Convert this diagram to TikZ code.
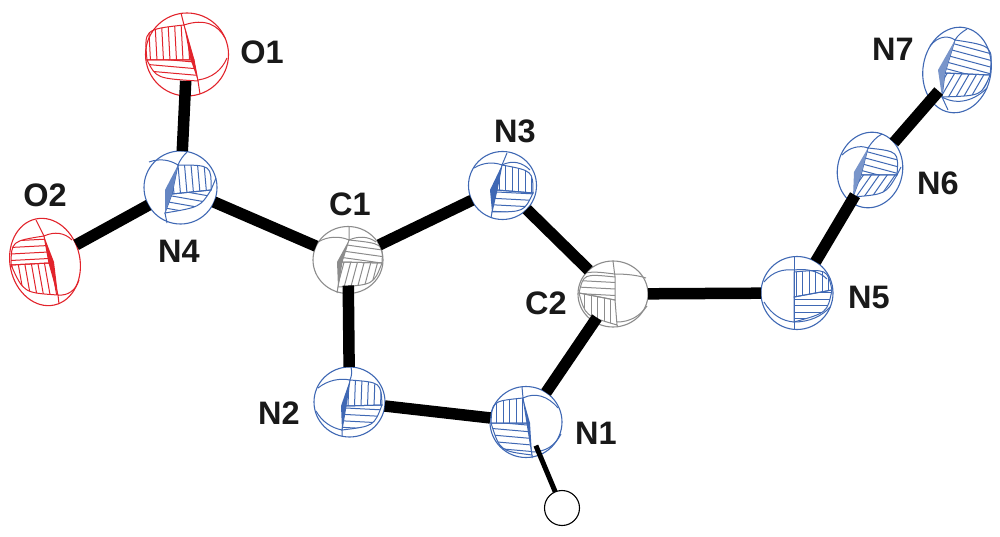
\documentclass[tikz,border=0pt]{standalone}
\usepackage{fontspec}
\setmainfont{Liberation Sans}
\usetikzlibrary{shapes.geometric,calc}
\definecolor{ored}{HTML}{E2232B}
\definecolor{nblue}{HTML}{3F68B4}
\definecolor{cgray}{HTML}{8C8C8C}
\tikzset{
  atomnode/.style={ellipse,inner sep=0pt,outer sep=0pt,fill=white,line width=1.1pt},
  bond/.style={line width=11.5pt,black},
  thinbond/.style={line width=5pt,black},
  lab/.style={font=\bfseries\fontsize{32.5}{33}\selectfont,text=black!90,inner sep=0pt},
  oline/.style={line width=1pt},
}
% name, centre, rx, ry, rotation, colour
\newcommand{\atom}[6]{\node[atomnode,draw=#6,minimum width={2*#3pt},minimum height={2*#4pt},rotate=#5] (#1) at (#2) {};}
\newcommand{\hatchreg}[4]{%
  \begin{scope}
    \clip (#1) -- (#2) .. controls ($(#1)!1.75!($(#2)!.5!(#3)$)$) .. (#3) -- cycle;
    \foreach \k in {-13,...,13}{\draw[#4,oline,shift={(#1)},rotate=\hatchang] (-95,\k*6.5+2) -- (95,\k*6.5+2);}
  \end{scope}
  \draw[#4,oline] (#1) -- (#2) .. controls ($(#1)!1.75!($(#2)!.5!(#3)$)$) .. (#3) -- cycle;}
% A, B, C, P, angle 1, angle 2, colour
\newcommand{\octant}[7]{%
  \coordinate (qA) at (#1); \coordinate (qB) at (#2); \coordinate (qC) at (#3); \coordinate (qP) at (#4);
  \def\hatchang{#5}\hatchreg{qP}{qA}{qB}{#7}%
  \def\hatchang{#6}\hatchreg{qP}{qB}{qC}{#7}}
\newcommand{\sliver}[2]{\fill[#1] #2 -- cycle;}
\begin{document}
\begin{tikzpicture}[x=1pt,y=-1pt]
\useasboundingbox (0,0) rectangle (1000,537);
\fill[white] (0,0) rectangle (1000,537);

% O1
\atom{O1}{187,54.5}{41.5}{41.5}{0}{ored}
\octant{184,25}{147,60}{198,81}{194,60}{93}{-5}{ored}
\sliver{ored}{(184,25) -- (194,60) -- (198,81) -- (190,58)}
\draw[ored,oline] (181,13) -- (184,25) .. controls (205,18) and (218,25) .. (225,38);
\draw[ored,oline] (198,81) -- (200,94) (198,80) .. controls (212,78) and (222,70) .. (227,58);

% O2
\atom{O2}{45,262}{35}{44}{12}{ored}
\octant{44,236}{11,265}{58,295}{49,263}{3}{100}{ored}
\sliver{ored}{(44,236) -- (49,263) -- (58,295) -- (54,262)}
\draw[ored,oline] (36,220) -- (44,236) .. controls (55,231) and (65,233) .. (72,240);
\draw[ored,oline] (58,295) -- (59,304) (58,295) .. controls (68,296) and (76,290) .. (79,280);

% N4
\atom{N4}{180.5,187.5}{36.5}{36.5}{0}{nblue}
\octant{178,165}{211,190}{165,213}{172,194}{95}{-10}{nblue}
\sliver{nblue!80}{(178,165) -- (172,194) -- (165,213) -- (165,190)}
\draw[nblue,oline] (149,162) .. controls (160,158) and (170,160) .. (178,165) .. controls (180,160) and (183,156) .. (187,152);
\draw[nblue,oline] (165,213) -- (167,223) (211,190) -- (216,178);

% C1
\atom{C1}{348,260}{35}{33.5}{0}{cgray}
\octant{349,240}{382,263}{338,287}{342,262}{-8}{75}{cgray}
\sliver{cgray}{(349,240) -- (342,262) -- (338,287) -- (337,262)}
\draw[cgray,oline] (349,227) -- (349,240) (318,242) .. controls (328,236) and (340,236) .. (349,240) .. controls (358,236) and (368,236) .. (376,242);
\draw[cgray,oline] (338,287) -- (337,293);

% N3
\atom{N3}{502.5,185.5}{34}{34}{0}{nblue}
\octant{502,165}{533,193}{492,212}{497,190}{90}{-3}{nblue}
\sliver{nblue}{(502,165) -- (497,190) -- (492,212) -- (490,190)}
\draw[nblue,oline] (474,168) .. controls (484,162) and (494,162) .. (502,165) -- (507,153);
\draw[nblue,oline] (492,212) -- (491,218) (502,165) .. controls (512,160) and (522,162) .. (530,170);

% C2
\atom{C2}{613,294}{35}{33}{0}{cgray}
\octant{615,277}{579,293}{617,325}{615,300}{-3}{90}{cgray}
\draw[cgray,oline] (613,261) -- (615,277) (617,325) -- (618,327);
\draw[cgray,oline] (585,273) .. controls (595,271) and (605,273) .. (615,274) .. controls (625,274) and (637,275) .. (646,278);
\draw[cgray,oline] (617,322) .. controls (630,322) and (640,316) .. (647,306);

% N2
\atom{N2}{349.5,402}{35.5}{35}{0}{nblue}
\octant{350,380}{382,405}{342,430}{346,406}{88}{-3}{nblue}
\sliver{nblue}{(350,380) -- (346,406) -- (342,430) -- (341,406)}
\draw[nblue,oline] (318,388) .. controls (328,380) and (340,378) .. (350,380) .. controls (352,375) and (352,372) .. (351,367);
\draw[nblue,oline] (342,430) -- (342,436) (316,411) .. controls (322,422) and (332,428) .. (342,430);

% N1
\atom{N1}{526,422}{36}{35.5}{0}{nblue}
\octant{523,398}{491,423}{532,455}{527,423}{90}{-5}{nblue}
\sliver{nblue}{(523,398) -- (527,423) -- (532,455) -- (530,423)}
\draw[nblue,oline] (522,387) -- (523,398) .. controls (535,392) and (548,396) .. (558,408);
\draw[nblue,oline] (532,455) -- (532,458) (532,452) .. controls (545,452) and (555,446) .. (561,434);

% N5
\atom{N5}{797,293}{36}{36.5}{0}{nblue}
\octant{794,272}{832,290}{794,322}{794,297}{90}{0}{nblue}
\draw[nblue,oline] (794,256) -- (794,330);
\draw[nblue,oline] (764,282) .. controls (773,271) and (784,269) .. (794,270) .. controls (808,268) and (820,272) .. (827,279);
\draw[nblue,oline] (764,302) .. controls (772,315) and (782,321) .. (794,322) .. controls (810,322) and (822,316) .. (830,307);

% N6
\atom{N6}{870,170}{32.5}{38}{-12}{nblue}
\octant{868,148}{897,175}{853,197}{861,175}{-15}{55}{nblue}
\sliver{nblue!70}{(868,148) -- (861,175) -- (853,197) -- (854,172)}
\draw[nblue,oline] (842,155) .. controls (850,147) and (860,145) .. (868,148) .. controls (872,142) and (876,137) .. (882,134);
\draw[nblue,oline] (853,197) -- (856,205) (897,175) -- (901,167);

% N7
\atom{N7}{957,70}{34}{43}{-10}{nblue}
\octant{955,40}{990,75}{942,97}{945,73}{-15}{60}{nblue}
\sliver{nblue!70}{(955,40) -- (945,73) -- (942,97) -- (938,70)}
\draw[nblue,oline] (930,46) .. controls (938,36) and (948,35) .. (955,40) .. controls (958,35) and (962,32) .. (967,29);
\draw[nblue,oline] (942,97) -- (948,110) (942,97) .. controls (958,106) and (975,100) .. (987,88);

% H
\node[atomnode,draw=black,minimum width=35pt,minimum height=35pt] (H) at (562,508) {};

% bonds
\draw[bond,shorten <=-15pt] (O1) -- (N4);
\draw[bond] (O2) -- (N4);
\draw[bond] (N4) -- (C1);
\draw[bond] (C1) -- (N3);
\draw[bond] (N3) -- (C2);
\draw[bond,shorten <=-8pt] (C1) -- (N2);
\draw[bond] (N2) -- (N1);
\draw[bond,shorten <=-5pt] (C2) -- (N1);
\draw[bond] (C2) -- (N5);
\draw[bond,shorten >=-8pt] (N5) -- (N6);
\draw[bond,shorten >=-12pt] (N6) -- (N7);
\draw[thinbond,shorten <=-10pt] (N1) -- (H);

% labels
\node[lab] (lO1) at (262,52) {O1};
\node[lab] (lO2) at (45,195) {O2};
\node[lab] (lN4) at (179,251) {N4};
\node[lab] (lC1) at (350,204) {C1};
\node[lab] (lN3) at (515,131) {N3};
\node[lab] (lC2) at (546,303) {C2};
\node[lab] (lN2) at (279,413) {N2};
\node[lab] (lN1) at (596,433) {N1};
\node[lab] (lN5) at (869,297) {N5};
\node[lab] (lN6) at (938,183) {N6};
\node[lab] (lN7) at (893,49) {N7};
\end{tikzpicture}
\end{document}
